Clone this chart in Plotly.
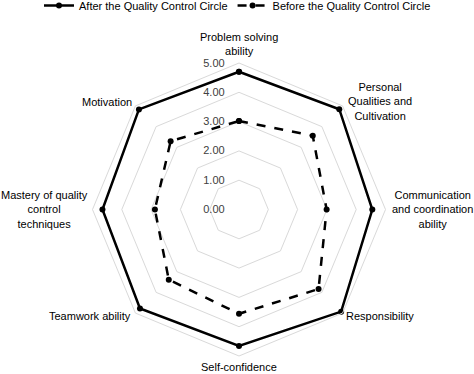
import plotly.graph_objects as go

categories = [
    "Problem solving ability",
    "Personal Qualities and Cultivation",
    "Communication and coordination ability",
    "Responsibility",
    "Self-confidence",
    "Teamwork ability",
    "Mastery of quality control techniques",
    "Motivation",
]
category_labels = [
    "Problem solving<br>ability",
    "Personal<br>Qualities and<br>Cultivation",
    "Communication<br>and coordination<br>ability",
    "Responsibility",
    "Self-confidence",
    "Teamwork ability",
    "Mastery of quality<br>control<br>techniques",
    "Motivation",
]
after_values = [4.70, 4.84, 4.55, 4.93, 4.66, 4.78, 4.66, 4.83]
before_values = [3.02, 3.56, 2.99, 3.84, 3.56, 3.39, 2.87, 3.30]
radial_ticks = [0, 1, 2, 3, 4, 5]
radial_tick_labels = ["0.00", "1.00", "2.00", "3.00", "4.00", "5.00"]

fig = go.Figure()
fig.add_trace(go.Scatterpolar(
    r=after_values + after_values[:1],
    theta=categories + categories[:1],
    mode="lines+markers",
    name="After the Quality Control Circle",
    line=dict(color="black", width=2.5),
    marker=dict(color="black", size=6),
))
fig.add_trace(go.Scatterpolar(
    r=before_values + before_values[:1],
    theta=categories + categories[:1],
    mode="lines+markers",
    name="Before the Quality Control Circle",
    line=dict(color="black", width=2.5, dash="dash"),
    marker=dict(color="black", size=6),
))

W, H = 474, 374
MT = 30
PH = H - MT
cx, cy, R = 239, 209.5, 146.5

# label placement (paper coords in pixels from top-left)
label_pos = [
    (239, 44.5), (380, 101), (432, 209), (380, 316),
    (239, 367), (90, 316), (44, 209), (107, 102),
]
annotations = []
for lab, (px, py) in zip(category_labels, label_pos):
    annotations.append(dict(
        text=lab, x=px / W, y=(H - py) / PH, xref="paper", yref="paper",
        xanchor="center", yanchor="middle", showarrow=False, align="center",
        font=dict(size=11, color="black"),
    ))

pad = "\u00a0" * 4
fig.update_layout(
    width=W, height=H,
    margin=dict(l=0, r=0, t=MT, b=0, autoexpand=False),
    paper_bgcolor="white",
    plot_bgcolor="white",
    font=dict(family="Liberation Sans, Arial, sans-serif", size=11, color="black"),
    showlegend=True,
    legend=dict(
        orientation="h", x=39 / W, xanchor="left", y=1 + (MT + 9) / PH, yanchor="top",
        font=dict(size=11), tracegroupgap=0, bgcolor="rgba(0,0,0,0)",
    ),
    annotations=annotations,
    polar=dict(
        gridshape="linear",
        bgcolor="white",
        domain=dict(
            x=[(cx - R) / W, (cx + R) / W],
            y=[(H - cy - R) / PH, (H - cy + R) / PH],
        ),
        radialaxis=dict(
            range=[0, 5],
            tickvals=radial_ticks,
            ticktext=[t + pad for t in radial_tick_labels],
            angle=90,
            tickangle=90,
            side="counterclockwise",
            showline=False,
            ticks="",
            gridcolor="#d9d9d9",
            gridwidth=1,
            tickfont=dict(size=11, color="#404040"),
        ),
        angularaxis=dict(
            direction="clockwise",
            rotation=90,
            showgrid=False,
            showticklabels=False,
            linecolor="#d9d9d9",
            linewidth=1,
            ticks="",
        ),
    ),
)

fig.write_html(
    "out.html",
    config={"displayModeBar": False},
    post_script="document.body.style.margin='0px';",
)
